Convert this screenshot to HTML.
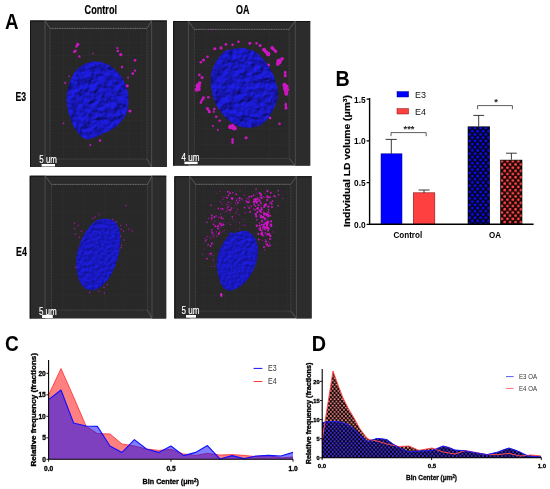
<!DOCTYPE html>
<html><head><meta charset="utf-8"><title>Figure</title>
<style>
html,body{margin:0;padding:0;background:#fff;}
svg{display:block}
text{font-family:"Liberation Sans",sans-serif;}
.b{font-weight:bold}
.s{stroke:#000;stroke-width:0.32px}
.s2{stroke:#000;stroke-width:0.2px}
</style></head><body>
<svg width="550" height="489" viewBox="0 0 550 489">
<defs>
<filter id="tex" x="0" y="0" width="1" height="1" color-interpolation-filters="sRGB">
<feTurbulence type="fractalNoise" baseFrequency="0.16" numOctaves="3" seed="3" result="n"/>
<feDiffuseLighting in="n" surfaceScale="1.8" diffuseConstant="1.12" lighting-color="#1c1cdc" result="l"><feDistantLight azimuth="235" elevation="52"/></feDiffuseLighting>
<feComposite in="l" in2="SourceAlpha" operator="in"/>
</filter>
<filter id="tex2" x="0" y="0" width="1" height="1" color-interpolation-filters="sRGB">
<feTurbulence type="fractalNoise" baseFrequency="0.3" numOctaves="3" seed="5" result="n"/>
<feDiffuseLighting in="n" surfaceScale="0.9" diffuseConstant="1.12" lighting-color="#1c1cdc" result="l"><feDistantLight azimuth="235" elevation="52"/></feDiffuseLighting>
<feComposite in="l" in2="SourceAlpha" operator="in"/>
</filter>
<pattern id="pb" width="5.45" height="6.4" patternUnits="userSpaceOnUse" x="468" y="126.4">
<rect width="5.45" height="6.4" fill="#05051a"/>
<g fill="#0a0aff"><circle cx="1.6" cy="1.6" r="1.45"/><circle cx="4.33" cy="4.8" r="1.45"/></g>
</pattern>
<pattern id="pr" width="5.45" height="6.4" patternUnits="userSpaceOnUse" x="500.4" y="159.6">
<rect width="5.45" height="6.4" fill="#1a0505"/>
<g fill="#ff4545"><circle cx="1.6" cy="1.6" r="1.45"/><circle cx="4.33" cy="4.8" r="1.45"/></g>
</pattern>
<pattern id="dr" width="3.76" height="4.2" patternUnits="userSpaceOnUse" x="329.9" y="394.1">
<rect width="3.76" height="4.2" fill="#000"/>
<g fill="#ff8a8a"><circle cx="0.9" cy="1.0" r="0.98"/><circle cx="2.78" cy="3.1" r="0.98"/></g>
</pattern>
<pattern id="db" width="3.76" height="4.2" patternUnits="userSpaceOnUse" x="329.9" y="394.1">
<rect width="3.76" height="4.2" fill="#1212a4"/>
<g fill="#000"><circle cx="2.78" cy="1.0" r="1.08"/><circle cx="0.9" cy="3.1" r="1.08"/></g>
<g fill="#7044dc"><circle cx="0.9" cy="1.0" r="0.72"/><circle cx="2.78" cy="3.1" r="0.72"/></g>
</pattern>
</defs>
<rect width="550" height="489" fill="#fff"/>

<rect x="30" y="20.6" width="136.8" height="146.4" fill="#2b2b2b"/>
<rect x="30" y="20.6" width="15.0" height="146.4" fill="#2c2c2c"/>
<rect x="151.6" y="20.6" width="15.2" height="146.4" fill="#2c2c2c"/>
<rect x="50" y="28.4" width="97.0" height="130.6" fill="#282828"/>
<path d="M30.5,167V21.1H166.8" stroke="#141414" stroke-width="1" fill="none"/>
<path d="M45,20.6V167M151.6,20.6V167" stroke="#5a5a5a" stroke-width="0.7" fill="none"/>
<path d="M45,20.6L50,28.4M151.6,20.6L147,28.4M45,167L50,159M151.6,167L147,159" stroke="#6a6a6a" stroke-width="0.7" fill="none"/>
<path d="M50,28.4H147" stroke="#909090" stroke-width="0.7" stroke-dasharray="1.2,0.5" fill="none"/>
<path d="M50,28.4V159H147V28.4" stroke="#5c5c5c" stroke-width="0.6" stroke-dasharray="0.9,0.6" fill="none"/>
<path d="M50.5,28.4V159M63.5,28.4V159M76.5,28.4V159M89.5,28.4V159M102.5,28.4V159M115.5,28.4V159M128.5,28.4V159M141.5,28.4V159M50,146.6H147M50,133.6H147M50,120.6H147M50,107.6H147M50,94.6H147M50,81.6H147M50,68.6H147M50,55.6H147M50,42.6H147M50,29.6H147" stroke="#3b3b3b" stroke-width="0.5" stroke-dasharray="0.7,0.9" fill="none"/>
<path d="M92.9,61.6C90.2,62.0 86.7,63.2 84.0,64.5C81.3,65.8 79.2,66.8 77.0,69.4C74.8,72.0 72.2,75.5 70.5,80.0C68.8,84.5 67.2,91.7 66.7,96.4C66.2,101.1 67.0,104.7 67.5,108.0C68.0,111.3 68.6,113.0 69.6,116.0C70.6,119.0 71.9,122.9 73.5,126.0C75.1,129.1 77.7,132.4 79.4,134.4C81.2,136.4 82.6,137.2 84.0,138.0C85.4,138.8 86.0,139.5 88.0,139.3C90.0,139.1 93.3,138.1 96.0,137.0C98.7,135.9 101.0,134.5 104.0,133.0C107.0,131.5 111.0,130.6 114.2,128.2C117.5,125.8 121.3,121.4 123.5,118.4C125.7,115.4 126.7,112.8 127.5,110.0C128.3,107.2 128.3,104.1 128.4,101.3C128.5,98.5 128.4,95.5 128.0,93.0C127.6,90.5 126.9,89.0 126.0,86.6C125.1,84.2 123.9,81.0 122.5,78.5C121.1,76.0 119.2,73.8 117.4,71.9C115.7,70.0 113.8,68.3 112.0,67.0C110.2,65.7 108.4,64.8 106.4,64.0C104.4,63.2 102.2,62.4 100.0,62.0C97.8,61.6 95.6,61.2 92.9,61.6Z" fill="#1818c8" filter="url(#tex)"/>
<g fill="#cc16c4"><circle cx="77.7" cy="44.4" r="1.70"/><circle cx="76.5" cy="46.5" r="1.30"/><circle cx="75.2" cy="51.0" r="1.50"/><circle cx="74.0" cy="52.0" r="1.10"/><circle cx="79.4" cy="56.4" r="1.20"/><circle cx="92.9" cy="53.5" r="0.80"/><circle cx="117.4" cy="48.0" r="1.10"/><circle cx="117.9" cy="51.0" r="1.30"/><circle cx="120.8" cy="54.7" r="1.60"/><circle cx="135.0" cy="60.3" r="1.40"/><circle cx="122.0" cy="67.0" r="1.20"/><circle cx="135.0" cy="70.6" r="1.20"/><circle cx="132.8" cy="73.6" r="1.40"/><circle cx="128.0" cy="77.5" r="0.90"/><circle cx="127.2" cy="85.8" r="1.60"/><circle cx="130.0" cy="111.0" r="1.60"/><circle cx="69.0" cy="76.3" r="0.80"/><circle cx="65.2" cy="82.9" r="1.00"/><circle cx="63.5" cy="123.3" r="0.90"/><circle cx="100.0" cy="140.5" r="1.20"/><circle cx="90.4" cy="145.0" r="0.90"/></g>
<text x="39.3" y="163.4" font-size="10.1" fill="#fff" stroke="#fff" stroke-width="0.15" textLength="17.7" lengthAdjust="spacingAndGlyphs">5 um</text>
<rect x="41.6" y="164" width="13.4" height="2.5" fill="#fff"/>
<rect x="173.2" y="21" width="137.0" height="144.6" fill="#2b2b2b"/>
<rect x="173.2" y="21" width="15.2" height="144.6" fill="#2c2c2c"/>
<rect x="295.3" y="21" width="14.9" height="144.6" fill="#2c2c2c"/>
<rect x="194.3" y="29.4" width="94.9" height="129.0" fill="#282828"/>
<path d="M173.7,165.6V21.5H310.2" stroke="#141414" stroke-width="1" fill="none"/>
<path d="M188.4,21V165.6M295.3,21V165.6" stroke="#5a5a5a" stroke-width="0.7" fill="none"/>
<path d="M188.4,21L194.3,29.4M295.3,21L289.2,29.4M188.4,165.6L194.3,158.4M295.3,165.6L289.2,158.4" stroke="#6a6a6a" stroke-width="0.7" fill="none"/>
<path d="M194.3,29.4H289.2" stroke="#909090" stroke-width="0.7" stroke-dasharray="1.2,0.5" fill="none"/>
<path d="M194.3,29.4V158.4H289.2V29.4" stroke="#5c5c5c" stroke-width="0.6" stroke-dasharray="0.9,0.6" fill="none"/>
<path d="M206.3,29.4V158.4M222.1,29.4V158.4M237.9,29.4V158.4M253.7,29.4V158.4M269.5,29.4V158.4M285.3,29.4V158.4M194.3,144.4H289.2M194.3,128.6H289.2M194.3,112.8H289.2M194.3,97.0H289.2M194.3,81.2H289.2M194.3,65.4H289.2M194.3,49.6H289.2M194.3,33.8H289.2" stroke="#3b3b3b" stroke-width="0.5" stroke-dasharray="0.7,0.9" fill="none"/>
<path d="M234.5,48.7C232.4,49.0 230.0,49.2 228.0,50.0C226.0,50.8 224.2,51.6 222.4,53.3C220.6,55.0 218.6,57.5 217.0,60.0C215.4,62.5 213.9,65.4 212.9,68.1C211.9,70.8 211.3,73.3 211.0,76.0C210.7,78.7 210.8,81.3 211.0,84.3C211.2,87.3 211.7,90.8 212.5,94.0C213.3,97.2 214.2,100.2 215.6,103.2C217.0,106.2 219.0,109.3 221.0,112.0C223.0,114.7 225.4,117.3 227.7,119.4C230.0,121.5 232.3,123.2 235.0,124.5C237.7,125.8 241.1,127.0 243.9,127.5C246.7,128.0 249.3,127.9 252.0,127.5C254.7,127.1 257.8,126.5 260.1,125.3C262.4,124.1 264.2,122.4 266.0,120.5C267.8,118.6 269.4,116.4 270.9,114.0C272.4,111.6 273.9,108.7 275.0,106.0C276.1,103.3 277.2,100.6 277.6,97.8C278.0,95.0 277.8,91.7 277.5,89.0C277.2,86.3 276.5,84.3 275.7,81.6C274.9,78.9 273.8,75.7 272.5,73.0C271.2,70.3 269.8,67.7 268.2,65.4C266.6,63.1 264.8,61.0 263.0,59.0C261.2,57.0 259.2,54.8 257.4,53.3C255.6,51.8 253.8,51.1 252.0,50.3C250.2,49.5 248.5,49.1 246.6,48.7C244.7,48.3 242.5,48.0 240.5,48.0C238.5,48.0 236.6,48.4 234.5,48.7Z" fill="#1818c8" filter="url(#tex)"/>
<g fill="#cc16c4"><circle cx="211.6" cy="29.6" r="0.77"/><circle cx="214.8" cy="48.7" r="1.54"/><circle cx="221.0" cy="47.9" r="1.54"/><circle cx="225.9" cy="44.4" r="1.28"/><circle cx="232.6" cy="44.7" r="1.28"/><circle cx="238.5" cy="41.7" r="1.28"/><circle cx="249.9" cy="43.3" r="1.54"/><circle cx="256.6" cy="43.3" r="1.28"/><circle cx="260.1" cy="45.5" r="1.54"/><circle cx="264.1" cy="49.8" r="2.05"/><circle cx="268.2" cy="54.1" r="2.31"/><circle cx="266.3" cy="52.0" r="1.79"/><circle cx="272.2" cy="47.9" r="1.79"/><circle cx="274.1" cy="49.8" r="1.54"/><circle cx="275.7" cy="51.4" r="1.54"/><circle cx="279.0" cy="61.4" r="2.56"/><circle cx="277.6" cy="64.1" r="1.79"/><circle cx="282.2" cy="58.7" r="1.79"/><circle cx="268.7" cy="64.9" r="1.28"/><circle cx="285.2" cy="72.2" r="1.28"/><circle cx="285.2" cy="75.7" r="1.54"/><circle cx="285.7" cy="87.0" r="2.82"/><circle cx="284.4" cy="84.9" r="2.05"/><circle cx="287.1" cy="89.7" r="2.05"/><circle cx="286.3" cy="93.8" r="2.05"/><circle cx="285.7" cy="104.5" r="1.28"/><circle cx="286.0" cy="108.0" r="1.54"/><circle cx="203.5" cy="60.0" r="1.54"/><circle cx="200.8" cy="62.2" r="1.28"/><circle cx="207.5" cy="56.8" r="1.28"/><circle cx="199.4" cy="74.9" r="1.28"/><circle cx="202.1" cy="77.6" r="1.54"/><circle cx="198.1" cy="85.7" r="2.56"/><circle cx="199.7" cy="83.0" r="1.79"/><circle cx="196.7" cy="89.7" r="2.05"/><circle cx="198.6" cy="89.2" r="2.05"/><circle cx="203.5" cy="97.8" r="1.54"/><circle cx="202.1" cy="100.0" r="1.28"/><circle cx="200.8" cy="102.6" r="1.28"/><circle cx="208.3" cy="97.3" r="1.28"/><circle cx="207.5" cy="108.6" r="1.54"/><circle cx="209.4" cy="111.8" r="1.54"/><circle cx="214.3" cy="109.1" r="1.28"/><circle cx="213.7" cy="111.8" r="1.02"/><circle cx="216.2" cy="116.7" r="1.28"/><circle cx="219.7" cy="120.7" r="1.28"/><circle cx="212.9" cy="126.1" r="1.02"/><circle cx="217.8" cy="130.1" r="1.02"/><circle cx="230.4" cy="126.9" r="2.31"/><circle cx="234.5" cy="128.3" r="2.31"/><circle cx="232.6" cy="126.1" r="2.05"/><circle cx="232.6" cy="139.6" r="1.28"/><circle cx="232.6" cy="142.6" r="1.28"/><circle cx="246.1" cy="137.7" r="1.54"/><circle cx="270.1" cy="118.0" r="1.28"/><circle cx="279.5" cy="123.7" r="1.28"/></g>
<g fill="#cc16c4"><ellipse cx="273.0" cy="48.7" rx="2.70" ry="1.08" transform="rotate(42 273.0 48.7)"/><ellipse cx="285.2" cy="73.8" rx="1.08" ry="2.97" transform="rotate(0 285.2 73.8)"/><ellipse cx="286.0" cy="105.9" rx="1.08" ry="3.50" transform="rotate(-4 286.0 105.9)"/><ellipse cx="232.6" cy="140.9" rx="0.97" ry="2.97" transform="rotate(2 232.6 140.9)"/><ellipse cx="198.1" cy="87.0" rx="2.16" ry="3.77" transform="rotate(12 198.1 87.0)"/><ellipse cx="202.1" cy="100.0" rx="1.08" ry="2.70" transform="rotate(32 202.1 100.0)"/><ellipse cx="279.2" cy="61.9" rx="2.16" ry="3.24" transform="rotate(28 279.2 61.9)"/><ellipse cx="285.7" cy="88.6" rx="2.43" ry="4.58" transform="rotate(-8 285.7 88.6)"/><ellipse cx="266.3" cy="52.2" rx="2.97" ry="1.62" transform="rotate(35 266.3 52.2)"/><ellipse cx="232.3" cy="127.5" rx="3.50" ry="1.89" transform="rotate(15 232.3 127.5)"/><ellipse cx="208.3" cy="109.9" rx="1.08" ry="2.16" transform="rotate(-30 208.3 109.9)"/></g>
<text x="181.6" y="161.2" font-size="10.1" fill="#fff" stroke="#fff" stroke-width="0.15" textLength="18.0" lengthAdjust="spacingAndGlyphs">4 um</text>
<rect x="184.4" y="161.7" width="13.2" height="2.4" fill="#fff"/>
<rect x="29.8" y="175.8" width="136.4" height="142.7" fill="#2b2b2b"/>
<rect x="29.8" y="175.8" width="15.2" height="142.7" fill="#2c2c2c"/>
<rect x="152" y="175.8" width="14.2" height="142.7" fill="#2c2c2c"/>
<rect x="51.4" y="184.4" width="96.1" height="125.6" fill="#282828"/>
<path d="M30.3,318.5V176.3H166.2" stroke="#141414" stroke-width="1" fill="none"/>
<path d="M45,175.8V318.5M152,175.8V318.5" stroke="#5a5a5a" stroke-width="0.7" fill="none"/>
<path d="M45,175.8L51.4,184.4M152,175.8L147.5,184.4M45,318.5L51.4,310M152,318.5L147.5,310" stroke="#6a6a6a" stroke-width="0.7" fill="none"/>
<path d="M51.4,184.4H147.5" stroke="#909090" stroke-width="0.7" stroke-dasharray="1.2,0.5" fill="none"/>
<path d="M51.4,184.4V310H147.5V184.4" stroke="#5c5c5c" stroke-width="0.6" stroke-dasharray="0.9,0.6" fill="none"/>
<path d="M63.0,184.4V310M83.7,184.4V310M104.4,184.4V310M125.1,184.4V310M145.8,184.4V310M51.4,295.3H147.5M51.4,274.6H147.5M51.4,253.9H147.5M51.4,233.2H147.5M51.4,212.5H147.5M51.4,191.8H147.5" stroke="#3b3b3b" stroke-width="0.5" stroke-dasharray="0.7,0.9" fill="none"/>
<path d="M105.1,218.8C103.2,218.8 100.8,219.0 99.0,219.5C97.2,220.0 95.8,220.7 94.1,222.0C92.4,223.3 90.6,225.5 89.0,227.5C87.4,229.5 85.7,231.7 84.3,234.2C82.9,236.7 81.6,239.6 80.5,242.5C79.4,245.4 78.2,248.5 77.5,251.4C76.8,254.3 76.4,257.1 76.2,260.0C76.0,262.9 76.2,265.8 76.5,268.5C76.8,271.2 77.3,274.1 78.0,276.5C78.7,278.9 79.5,281.3 80.6,283.2C81.7,285.1 83.1,286.6 84.5,287.8C85.9,289.0 87.5,289.7 89.2,290.1C90.9,290.5 92.9,290.3 94.5,290.0C96.1,289.7 97.4,289.1 99.0,288.1C100.6,287.1 102.6,285.4 104.2,283.8C105.8,282.2 107.4,280.4 108.8,278.3C110.2,276.2 111.6,273.8 112.8,271.3C114.0,268.9 115.2,266.3 116.2,263.6C117.2,260.9 117.9,257.9 118.5,255.0C119.1,252.2 119.6,249.2 119.9,246.5C120.2,243.8 120.4,241.4 120.4,239.0C120.4,236.6 120.3,234.0 119.9,231.8C119.5,229.6 118.8,227.6 118.0,226.0C117.2,224.4 116.2,223.1 115.0,222.0C113.8,220.9 112.2,220.1 110.5,219.6C108.8,219.1 107.0,218.8 105.1,218.8Z" fill="#1a1ad0" filter="url(#tex2)"/>
<g fill="#b010b0"><circle cx="126.0" cy="205.5" r="0.75"/><circle cx="95.3" cy="217.1" r="0.75"/><circle cx="99.0" cy="214.6" r="0.75"/><circle cx="92.9" cy="218.3" r="0.75"/><circle cx="74.5" cy="223.2" r="0.75"/><circle cx="78.2" cy="225.6" r="0.75"/><circle cx="74.5" cy="228.8" r="0.75"/><circle cx="81.4" cy="231.3" r="0.75"/><circle cx="75.7" cy="234.2" r="0.75"/><circle cx="79.4" cy="237.2" r="0.75"/><circle cx="112.5" cy="219.5" r="0.75"/><circle cx="116.2" cy="222.0" r="0.75"/><circle cx="120.6" cy="225.6" r="0.75"/><circle cx="121.1" cy="229.3" r="0.75"/><circle cx="123.5" cy="231.3" r="0.75"/><circle cx="126.5" cy="224.9" r="0.75"/><circle cx="128.9" cy="229.3" r="0.75"/><circle cx="132.1" cy="231.0" r="0.75"/><circle cx="120.6" cy="236.2" r="0.75"/><circle cx="124.0" cy="239.9" r="0.75"/><circle cx="121.6" cy="245.2" r="0.75"/><circle cx="121.1" cy="247.7" r="0.75"/><circle cx="75.7" cy="267.3" r="0.75"/><circle cx="107.1" cy="284.5" r="0.75"/><circle cx="103.9" cy="287.6" r="0.75"/><circle cx="99.0" cy="291.3" r="0.75"/><circle cx="104.4" cy="293.0" r="0.75"/><circle cx="89.7" cy="292.5" r="0.75"/></g>
<text x="38.9" y="314.5" font-size="10.1" fill="#fff" stroke="#fff" stroke-width="0.15" textLength="17.9" lengthAdjust="spacingAndGlyphs">5 um</text>
<rect x="42.1" y="314.9" width="10.7" height="3.1" fill="#fff"/>
<rect x="174.4" y="176.3" width="137.2" height="142.1" fill="#2b2b2b"/>
<rect x="174.4" y="176.3" width="15.2" height="142.1" fill="#2c2c2c"/>
<rect x="296.4" y="176.3" width="15.2" height="142.1" fill="#2c2c2c"/>
<rect x="195.6" y="184.3" width="95.2" height="126.7" fill="#282828"/>
<path d="M174.9,318.4V176.8H311.6" stroke="#141414" stroke-width="1" fill="none"/>
<path d="M189.6,176.3V318.4M296.4,176.3V318.4" stroke="#5a5a5a" stroke-width="0.7" fill="none"/>
<path d="M189.6,176.3L195.6,184.3M296.4,176.3L290.8,184.3M189.6,318.4L195.6,311M296.4,318.4L290.8,311" stroke="#6a6a6a" stroke-width="0.7" fill="none"/>
<path d="M195.6,184.3H290.8" stroke="#909090" stroke-width="0.7" stroke-dasharray="1.2,0.5" fill="none"/>
<path d="M195.6,184.3V311H290.8V184.3" stroke="#5c5c5c" stroke-width="0.6" stroke-dasharray="0.9,0.6" fill="none"/>
<path d="M204.2,184.3V311M214.6,184.3V311M225.0,184.3V311M235.4,184.3V311M245.8,184.3V311M256.2,184.3V311M266.6,184.3V311M277.0,184.3V311M287.4,184.3V311M195.6,305.8H290.8M195.6,295.4H290.8M195.6,285.0H290.8M195.6,274.6H290.8M195.6,264.2H290.8M195.6,253.8H290.8M195.6,243.4H290.8M195.6,233.0H290.8M195.6,222.6H290.8M195.6,212.2H290.8M195.6,201.8H290.8M195.6,191.4H290.8" stroke="#3b3b3b" stroke-width="0.5" stroke-dasharray="0.7,0.9" fill="none"/>
<path d="M230.5,231.3C231.0,231.4 231.6,232.9 232.5,233.2C233.4,233.4 234.8,233.1 236.2,232.8C237.6,232.5 239.3,231.5 241.0,231.2C242.7,230.9 244.8,230.6 246.5,231.0C248.2,231.4 249.6,232.3 251.0,233.5C252.4,234.7 253.7,236.2 254.7,237.9C255.7,239.6 256.4,241.6 257.0,243.5C257.6,245.4 257.9,247.2 258.0,249.5C258.1,251.8 257.9,254.4 257.5,257.0C257.1,259.6 256.4,262.3 255.5,264.9C254.6,267.5 253.3,270.1 252.0,272.5C250.7,274.9 249.3,277.2 247.8,279.1C246.3,281.1 244.7,282.7 243.0,284.2C241.3,285.7 239.3,287.1 237.5,288.1C235.7,289.1 233.7,289.9 232.0,290.2C230.3,290.5 228.6,290.6 227.2,290.1C225.8,289.7 224.4,288.7 223.3,287.5C222.2,286.3 221.5,285.0 220.7,282.9C219.8,280.8 218.8,277.6 218.2,275.0C217.6,272.4 217.1,269.8 216.9,267.5C216.7,265.2 216.8,263.1 217.0,261.0C217.2,258.9 217.6,256.7 218.2,254.6C218.8,252.5 219.5,250.4 220.3,248.5C221.2,246.6 222.4,244.6 223.3,243.0C224.2,241.4 225.1,240.1 226.0,238.8C226.9,237.6 228.2,236.6 228.8,235.5C229.4,234.4 229.2,233.2 229.5,232.5C229.8,231.8 230.0,231.2 230.5,231.3Z" fill="#1a1ad0" filter="url(#tex2)"/>
<g fill="#a80ea2"><circle cx="258.0" cy="208.3" r="0.60"/><circle cx="265.5" cy="205.7" r="0.60"/><circle cx="260.0" cy="210.1" r="0.70"/><circle cx="257.3" cy="208.0" r="0.60"/><circle cx="267.9" cy="227.0" r="0.70"/><circle cx="266.5" cy="234.8" r="0.60"/><circle cx="266.6" cy="234.7" r="0.60"/><circle cx="262.8" cy="222.1" r="0.60"/><circle cx="266.4" cy="213.6" r="0.60"/><circle cx="265.0" cy="223.9" r="0.70"/><circle cx="269.2" cy="222.2" r="0.60"/><circle cx="269.6" cy="225.0" r="0.60"/><circle cx="271.1" cy="238.8" r="0.60"/><circle cx="273.1" cy="231.9" r="0.70"/><circle cx="269.6" cy="243.3" r="0.70"/><circle cx="264.6" cy="249.7" r="0.70"/><circle cx="259.4" cy="214.7" r="0.60"/><circle cx="265.0" cy="229.1" r="0.60"/><circle cx="268.4" cy="241.7" r="0.60"/><circle cx="256.0" cy="213.5" r="0.70"/><circle cx="261.5" cy="216.6" r="0.70"/><circle cx="265.4" cy="215.3" r="0.70"/><circle cx="268.1" cy="228.0" r="0.70"/><circle cx="263.7" cy="225.9" r="0.70"/><circle cx="265.5" cy="239.8" r="0.70"/><circle cx="269.6" cy="213.0" r="0.60"/><circle cx="268.9" cy="228.4" r="0.70"/><circle cx="262.7" cy="240.3" r="0.60"/><circle cx="270.3" cy="226.6" r="0.60"/><circle cx="266.7" cy="224.5" r="0.60"/><circle cx="258.2" cy="234.0" r="0.60"/><circle cx="260.1" cy="216.0" r="0.70"/><circle cx="267.5" cy="216.5" r="0.70"/><circle cx="262.9" cy="216.6" r="0.70"/><circle cx="265.3" cy="203.8" r="0.70"/><circle cx="267.2" cy="219.8" r="0.70"/><circle cx="263.5" cy="225.9" r="0.60"/><circle cx="269.3" cy="234.6" r="0.60"/><circle cx="258.5" cy="205.5" r="0.60"/><circle cx="258.6" cy="228.5" r="0.70"/><circle cx="264.6" cy="197.1" r="0.60"/><circle cx="266.6" cy="244.6" r="0.60"/><circle cx="267.0" cy="213.9" r="0.60"/><circle cx="227.1" cy="198.4" r="0.60"/><circle cx="242.8" cy="201.0" r="0.50"/><circle cx="247.0" cy="198.7" r="0.50"/><circle cx="256.1" cy="201.3" r="0.60"/><circle cx="247.9" cy="205.9" r="0.60"/><circle cx="220.0" cy="190.9" r="0.60"/><circle cx="260.5" cy="200.3" r="0.50"/><circle cx="244.2" cy="195.0" r="0.70"/><circle cx="238.0" cy="198.7" r="0.60"/><circle cx="265.0" cy="193.3" r="0.60"/><circle cx="253.5" cy="208.8" r="0.70"/><circle cx="263.2" cy="196.7" r="0.70"/><circle cx="259.5" cy="197.2" r="0.60"/><circle cx="257.7" cy="197.6" r="0.60"/><circle cx="223.2" cy="197.2" r="0.60"/><circle cx="227.9" cy="204.5" r="0.50"/><circle cx="269.6" cy="203.7" r="0.70"/><circle cx="266.3" cy="204.0" r="0.70"/><circle cx="222.9" cy="199.4" r="0.60"/><circle cx="257.1" cy="193.4" r="0.50"/><circle cx="267.4" cy="195.9" r="0.60"/><circle cx="255.2" cy="203.1" r="0.60"/><circle cx="220.5" cy="201.8" r="0.70"/><circle cx="235.6" cy="203.3" r="0.70"/><circle cx="228.2" cy="202.8" r="0.50"/><circle cx="246.9" cy="198.3" r="0.60"/><circle cx="261.3" cy="205.4" r="0.50"/><circle cx="282.7" cy="198.4" r="0.70"/><circle cx="239.9" cy="190.5" r="0.60"/><circle cx="226.4" cy="204.6" r="0.50"/><circle cx="254.8" cy="195.0" r="0.50"/><circle cx="255.0" cy="198.5" r="0.70"/><circle cx="275.4" cy="196.7" r="0.70"/><circle cx="254.2" cy="205.2" r="0.60"/><circle cx="245.6" cy="200.6" r="0.60"/><circle cx="248.7" cy="198.9" r="0.70"/><circle cx="229.1" cy="191.7" r="0.50"/><circle cx="224.8" cy="197.0" r="0.50"/><circle cx="249.5" cy="200.5" r="0.60"/><circle cx="219.5" cy="217.1" r="0.60"/><circle cx="219.4" cy="229.5" r="0.50"/><circle cx="209.4" cy="236.7" r="0.50"/><circle cx="220.5" cy="227.3" r="0.50"/><circle cx="213.6" cy="234.0" r="0.40"/><circle cx="213.6" cy="236.9" r="0.60"/><circle cx="207.1" cy="236.7" r="0.70"/><circle cx="219.4" cy="224.2" r="0.60"/><circle cx="218.2" cy="220.6" r="0.40"/><circle cx="214.5" cy="220.9" r="0.60"/><circle cx="211.5" cy="218.9" r="0.50"/><circle cx="218.6" cy="228.4" r="0.40"/><circle cx="221.5" cy="232.4" r="0.40"/><circle cx="224.2" cy="230.3" r="0.60"/><circle cx="221.2" cy="204.3" r="0.40"/><circle cx="225.9" cy="211.6" r="0.70"/><circle cx="211.8" cy="235.1" r="0.50"/><circle cx="214.2" cy="235.2" r="0.60"/><circle cx="208.6" cy="218.5" r="0.70"/><circle cx="209.6" cy="253.4" r="0.40"/><circle cx="219.1" cy="209.5" r="0.60"/><circle cx="218.3" cy="217.6" r="0.40"/><circle cx="232.3" cy="217.0" r="0.60"/><circle cx="205.0" cy="238.7" r="0.60"/><circle cx="221.6" cy="225.1" r="0.60"/><circle cx="210.6" cy="238.5" r="0.50"/><circle cx="218.8" cy="217.6" r="0.70"/><circle cx="217.1" cy="236.6" r="0.70"/><circle cx="221.9" cy="223.9" r="0.40"/><circle cx="216.4" cy="235.7" r="0.50"/><circle cx="214.1" cy="209.3" r="0.40"/><circle cx="206.6" cy="239.8" r="0.70"/><circle cx="220.6" cy="214.2" r="0.70"/><circle cx="211.1" cy="238.0" r="0.60"/><circle cx="216.4" cy="231.9" r="0.70"/><circle cx="219.7" cy="231.9" r="0.70"/><circle cx="221.7" cy="226.4" r="0.50"/><circle cx="222.9" cy="231.2" r="0.50"/><circle cx="219.0" cy="222.4" r="0.40"/><circle cx="217.4" cy="228.4" r="0.70"/><circle cx="218.6" cy="229.2" r="0.40"/><circle cx="211.6" cy="219.8" r="0.70"/><circle cx="214.3" cy="224.8" r="0.50"/><circle cx="223.3" cy="223.1" r="0.60"/><circle cx="211.9" cy="231.5" r="0.70"/><circle cx="218.3" cy="224.9" r="0.50"/><circle cx="212.4" cy="236.1" r="0.50"/><circle cx="223.9" cy="208.4" r="0.40"/><circle cx="215.9" cy="221.9" r="0.40"/><circle cx="207.7" cy="259.0" r="0.50"/><circle cx="208.7" cy="254.4" r="0.40"/><circle cx="210.7" cy="252.9" r="0.60"/><circle cx="214.8" cy="266.5" r="0.60"/><circle cx="209.9" cy="266.7" r="0.40"/><circle cx="208.3" cy="255.1" r="0.40"/><circle cx="213.7" cy="243.7" r="0.40"/><circle cx="213.1" cy="260.2" r="0.60"/><circle cx="202.5" cy="254.4" r="0.60"/><circle cx="203.9" cy="249.3" r="0.50"/><circle cx="212.9" cy="257.8" r="0.40"/><circle cx="211.9" cy="255.5" r="0.50"/><circle cx="211.7" cy="266.5" r="0.60"/><circle cx="213.7" cy="255.7" r="0.50"/><circle cx="213.4" cy="260.2" r="0.50"/><circle cx="209.7" cy="254.7" r="0.40"/><circle cx="209.7" cy="253.8" r="0.50"/><circle cx="207.6" cy="245.8" r="0.40"/><circle cx="239.0" cy="214.7" r="0.70"/><circle cx="236.9" cy="204.7" r="0.60"/><circle cx="228.2" cy="211.6" r="0.40"/><circle cx="253.8" cy="200.4" r="0.50"/><circle cx="245.5" cy="212.6" r="0.70"/><circle cx="257.8" cy="209.5" r="0.60"/><circle cx="240.5" cy="202.9" r="0.40"/><circle cx="239.7" cy="222.9" r="0.40"/><circle cx="222.9" cy="209.7" r="0.60"/><circle cx="229.3" cy="219.3" r="0.40"/><circle cx="243.3" cy="219.6" r="0.50"/><circle cx="245.0" cy="225.5" r="0.70"/><circle cx="235.8" cy="213.6" r="0.50"/><circle cx="221.8" cy="223.2" r="0.60"/><circle cx="250.8" cy="210.8" r="0.50"/><circle cx="228.1" cy="202.0" r="0.70"/><circle cx="226.7" cy="204.4" r="0.60"/><circle cx="260.4" cy="214.0" r="0.40"/><circle cx="239.5" cy="222.7" r="0.60"/><circle cx="236.8" cy="212.1" r="0.70"/><circle cx="242.9" cy="224.9" r="0.60"/><circle cx="247.3" cy="203.4" r="0.50"/><circle cx="239.7" cy="228.8" r="0.60"/><circle cx="229.7" cy="213.2" r="0.50"/><circle cx="233.9" cy="208.0" r="0.50"/><circle cx="220.6" cy="208.6" r="0.70"/><circle cx="216.4" cy="193.3" r="0.50"/><circle cx="237.6" cy="209.5" r="0.70"/><circle cx="230.9" cy="203.2" r="0.60"/><circle cx="228.0" cy="223.0" r="0.50"/><circle cx="228.6" cy="207.5" r="0.60"/><circle cx="231.3" cy="209.6" r="0.70"/><circle cx="232.9" cy="219.4" r="0.60"/><circle cx="227.6" cy="210.2" r="0.70"/><circle cx="229.4" cy="205.8" r="0.50"/><circle cx="230.5" cy="224.4" r="0.70"/><circle cx="226.9" cy="208.7" r="0.60"/><circle cx="220.7" cy="208.3" r="0.50"/><circle cx="222.3" cy="203.9" r="0.70"/></g>
<g fill="#cc16c4"><circle cx="260.2" cy="229.7" r="1.20"/><circle cx="260.3" cy="228.1" r="1.00"/><circle cx="270.1" cy="245.4" r="0.90"/><circle cx="263.0" cy="226.8" r="1.00"/><circle cx="260.6" cy="217.4" r="0.90"/><circle cx="257.5" cy="211.9" r="0.80"/><circle cx="258.2" cy="234.1" r="1.00"/><circle cx="261.2" cy="212.5" r="0.80"/><circle cx="261.3" cy="233.7" r="1.20"/><circle cx="268.4" cy="228.8" r="1.20"/><circle cx="266.1" cy="222.3" r="0.90"/><circle cx="262.0" cy="221.1" r="1.10"/><circle cx="265.3" cy="229.7" r="0.80"/><circle cx="263.0" cy="216.9" r="1.00"/><circle cx="261.9" cy="230.8" r="0.90"/><circle cx="262.8" cy="228.8" r="0.80"/><circle cx="270.0" cy="197.3" r="1.00"/><circle cx="267.9" cy="223.4" r="0.80"/><circle cx="271.1" cy="224.7" r="1.20"/><circle cx="260.9" cy="217.3" r="0.90"/><circle cx="270.3" cy="236.0" r="1.20"/><circle cx="269.9" cy="239.0" r="1.00"/><circle cx="268.1" cy="212.1" r="0.90"/><circle cx="267.2" cy="225.9" r="1.00"/><circle cx="267.9" cy="221.7" r="1.10"/><circle cx="262.3" cy="233.1" r="1.00"/><circle cx="259.8" cy="225.7" r="1.10"/><circle cx="267.1" cy="223.1" r="0.90"/><circle cx="256.1" cy="216.0" r="1.00"/><circle cx="264.5" cy="219.4" r="0.90"/><circle cx="267.4" cy="227.9" r="0.90"/><circle cx="271.1" cy="221.3" r="1.10"/><circle cx="255.0" cy="209.6" r="0.90"/><circle cx="271.4" cy="226.0" r="0.90"/><circle cx="266.7" cy="224.1" r="1.00"/><circle cx="264.4" cy="227.2" r="1.10"/><circle cx="264.1" cy="217.6" r="0.80"/><circle cx="267.1" cy="214.3" r="1.20"/><circle cx="261.0" cy="215.7" r="1.00"/><circle cx="268.6" cy="209.6" r="0.90"/><circle cx="270.3" cy="215.7" r="0.90"/><circle cx="259.6" cy="223.0" r="0.80"/><circle cx="266.9" cy="222.4" r="1.20"/><circle cx="255.6" cy="206.1" r="0.80"/><circle cx="263.9" cy="212.5" r="0.90"/><circle cx="261.8" cy="224.7" r="0.90"/><circle cx="262.8" cy="217.1" r="0.90"/><circle cx="267.2" cy="215.3" r="1.00"/><circle cx="256.8" cy="225.7" r="1.20"/><circle cx="266.7" cy="225.3" r="0.80"/><circle cx="265.3" cy="218.5" r="0.90"/><circle cx="265.4" cy="233.1" r="0.90"/><circle cx="262.2" cy="235.1" r="1.10"/><circle cx="264.0" cy="247.0" r="1.00"/><circle cx="265.8" cy="241.6" r="1.10"/><circle cx="261.9" cy="208.3" r="0.80"/><circle cx="260.3" cy="211.3" r="1.10"/><circle cx="264.4" cy="214.2" r="1.20"/><circle cx="266.2" cy="227.2" r="1.10"/><circle cx="267.0" cy="228.2" r="1.00"/><circle cx="263.0" cy="216.6" r="0.90"/><circle cx="266.9" cy="244.5" r="1.20"/><circle cx="268.4" cy="246.1" r="1.00"/><circle cx="261.7" cy="209.8" r="1.00"/><circle cx="267.5" cy="223.8" r="1.20"/><circle cx="258.7" cy="239.5" r="0.90"/><circle cx="269.3" cy="234.2" r="1.10"/><circle cx="265.3" cy="223.3" r="1.00"/><circle cx="255.7" cy="214.1" r="1.20"/><circle cx="265.6" cy="213.5" r="0.80"/><circle cx="262.5" cy="217.4" r="1.10"/><circle cx="268.4" cy="206.7" r="1.10"/><circle cx="268.0" cy="230.7" r="0.90"/><circle cx="257.0" cy="219.8" r="0.80"/><circle cx="264.4" cy="228.7" r="0.90"/><circle cx="263.7" cy="235.7" r="0.80"/><circle cx="264.0" cy="224.6" r="1.20"/><circle cx="267.9" cy="234.3" r="1.20"/><circle cx="268.5" cy="216.5" r="1.00"/><circle cx="268.3" cy="214.8" r="1.10"/><circle cx="268.1" cy="228.6" r="1.00"/><circle cx="256.4" cy="216.4" r="1.00"/><circle cx="236.2" cy="194.3" r="0.90"/><circle cx="249.2" cy="208.0" r="0.90"/><circle cx="259.4" cy="210.2" r="0.90"/><circle cx="232.2" cy="199.0" r="0.90"/><circle cx="270.8" cy="202.4" r="0.80"/><circle cx="278.7" cy="194.7" r="0.80"/><circle cx="229.6" cy="209.8" r="0.80"/><circle cx="241.8" cy="199.1" r="0.80"/><circle cx="251.1" cy="206.2" r="0.80"/><circle cx="249.2" cy="196.7" r="0.90"/><circle cx="229.9" cy="193.2" r="1.00"/><circle cx="231.4" cy="198.4" r="0.80"/><circle cx="227.8" cy="191.7" r="0.90"/><circle cx="256.9" cy="202.8" r="1.00"/><circle cx="255.5" cy="201.4" r="0.80"/><circle cx="278.2" cy="205.7" r="0.80"/><circle cx="272.5" cy="201.2" r="0.90"/><circle cx="255.6" cy="200.7" r="1.00"/><circle cx="258.6" cy="205.2" r="1.00"/><circle cx="222.4" cy="208.9" r="0.90"/><circle cx="246.9" cy="201.7" r="1.00"/><circle cx="278.3" cy="190.8" r="0.80"/><circle cx="239.7" cy="198.0" r="0.90"/><circle cx="248.7" cy="202.3" r="1.00"/><circle cx="256.1" cy="189.3" r="0.80"/><circle cx="261.1" cy="203.3" r="0.90"/><circle cx="267.2" cy="199.9" r="1.00"/><circle cx="232.8" cy="198.4" r="0.80"/><circle cx="232.8" cy="192.7" r="0.80"/><circle cx="254.2" cy="199.4" r="0.90"/><circle cx="260.6" cy="202.2" r="0.80"/><circle cx="250.1" cy="211.9" r="0.90"/><circle cx="232.3" cy="198.1" r="0.90"/><circle cx="218.2" cy="208.3" r="0.80"/><circle cx="239.5" cy="200.2" r="0.80"/><circle cx="226.9" cy="197.6" r="0.80"/><circle cx="268.0" cy="197.6" r="0.90"/><circle cx="237.8" cy="202.5" r="0.90"/><circle cx="244.5" cy="207.6" r="0.90"/><circle cx="274.3" cy="196.0" r="1.00"/><circle cx="228.4" cy="195.4" r="0.80"/><circle cx="217.6" cy="226.5" r="0.90"/><circle cx="219.2" cy="233.2" r="0.90"/><circle cx="215.2" cy="226.4" r="0.80"/><circle cx="212.0" cy="217.9" r="0.90"/><circle cx="205.6" cy="241.0" r="0.80"/><circle cx="211.7" cy="229.8" r="0.80"/><circle cx="211.8" cy="215.4" r="0.90"/><circle cx="215.7" cy="226.1" r="0.80"/><circle cx="211.0" cy="253.7" r="0.90"/><circle cx="221.5" cy="217.0" r="0.80"/><circle cx="208.2" cy="244.8" r="0.80"/><circle cx="210.6" cy="246.0" r="0.90"/><circle cx="220.0" cy="223.4" r="0.90"/><circle cx="218.6" cy="234.1" r="0.80"/><circle cx="206.9" cy="258.6" r="0.80"/><circle cx="221.2" cy="224.9" r="0.90"/><circle cx="211.6" cy="243.9" r="0.80"/><circle cx="212.3" cy="232.8" r="0.90"/><circle cx="218.0" cy="228.4" r="0.90"/><circle cx="206.9" cy="222.3" r="0.80"/><circle cx="213.4" cy="224.3" r="0.80"/><circle cx="218.5" cy="234.2" r="0.90"/><circle cx="216.1" cy="216.0" r="0.80"/><circle cx="218.6" cy="226.0" r="0.80"/><circle cx="223.5" cy="224.6" r="0.90"/><circle cx="227.7" cy="206.8" r="0.80"/><circle cx="214.5" cy="217.0" r="0.90"/><circle cx="212.1" cy="243.0" r="0.80"/><circle cx="210.9" cy="205.4" r="0.80"/><circle cx="222.8" cy="225.3" r="0.80"/><circle cx="221.1" cy="218.3" r="0.80"/><circle cx="256.6" cy="198.9" r="0.90"/><circle cx="259.2" cy="200.0" r="0.90"/><circle cx="261.2" cy="197.6" r="1.10"/><circle cx="251.5" cy="196.5" r="1.00"/><circle cx="272.0" cy="206.9" r="1.00"/><circle cx="257.3" cy="201.3" r="0.90"/><circle cx="261.2" cy="207.9" r="0.80"/><circle cx="255.7" cy="198.9" r="1.00"/><circle cx="257.9" cy="198.9" r="0.80"/><circle cx="257.2" cy="212.3" r="0.90"/><circle cx="261.0" cy="195.2" r="0.90"/><circle cx="263.9" cy="207.1" r="0.80"/><circle cx="254.1" cy="202.2" r="0.90"/><circle cx="257.1" cy="208.5" r="1.10"/><circle cx="253.5" cy="195.2" r="0.80"/><circle cx="264.4" cy="205.5" r="0.80"/><circle cx="264.7" cy="205.0" r="1.10"/><circle cx="264.4" cy="206.7" r="1.00"/><circle cx="271.7" cy="203.9" r="0.90"/><circle cx="254.2" cy="204.4" r="0.80"/><circle cx="253.9" cy="201.7" r="1.10"/><circle cx="260.7" cy="194.1" r="1.10"/><circle cx="267.5" cy="191.1" r="1.10"/><circle cx="262.1" cy="198.1" r="0.80"/><circle cx="267.4" cy="196.7" r="1.10"/><circle cx="259.3" cy="201.2" r="0.80"/><circle cx="258.0" cy="208.1" r="1.10"/><circle cx="259.6" cy="193.0" r="1.00"/><circle cx="270.8" cy="192.8" r="0.90"/><circle cx="265.8" cy="204.9" r="1.10"/><circle cx="232.3" cy="216.8" r="0.80"/><circle cx="230.3" cy="210.4" r="0.80"/><circle cx="236.4" cy="200.3" r="0.80"/><circle cx="222.9" cy="218.6" r="0.80"/><circle cx="231.5" cy="208.0" r="0.80"/></g>
<g fill="#e020d8"><circle cx="221.2" cy="294.5" r="1.30"/><circle cx="221.4" cy="296.0" r="0.90"/></g>
<text x="181.6" y="314.4" font-size="10.1" fill="#fff" stroke="#fff" stroke-width="0.15" textLength="18.0" lengthAdjust="spacingAndGlyphs">5 um</text>
<rect x="186" y="315" width="10.0" height="2.7" fill="#fff"/>
<text class="b" x="5" y="28.9" font-size="22" textLength="13.5" lengthAdjust="spacingAndGlyphs">A</text>
<text class="b s2" x="84.6" y="14.4" font-size="13.7" textLength="32.4" lengthAdjust="spacingAndGlyphs">Control</text>
<text class="b s2" x="236" y="14.4" font-size="13.7" textLength="13.4" lengthAdjust="spacingAndGlyphs">OA</text>
<text class="b s2" x="15.4" y="100.8" font-size="13.1" textLength="10.6" lengthAdjust="spacingAndGlyphs">E3</text>
<text class="b s2" x="16" y="255.8" font-size="13.1" textLength="10.8" lengthAdjust="spacingAndGlyphs">E4</text>
<text class="b" x="335.4" y="86.4" font-size="22" textLength="14.2" lengthAdjust="spacingAndGlyphs">B</text>
<rect x="381" y="153.8" width="21" height="70.5" fill="#0000ff" stroke="#00008a" stroke-width="0.5"/>
<rect x="413.3" y="192.8" width="21.5" height="31.5" fill="#ff4040" stroke="#8a1010" stroke-width="0.6"/>
<rect x="468" y="126.8" width="21.7" height="97.5" fill="url(#pb)" stroke="#000" stroke-width="0.6"/>
<rect x="500.5" y="160.1" width="21.5" height="64.2" fill="url(#pr)" stroke="#000" stroke-width="0.6"/>
<path d="M391.3,153.8V139.4M385.6,139.4H396.8 M424,193V190M418.6,190H429.6 M478.7,126.5V115.4M473.3,115.4H484.1 M511.4,159.7V153.2M506,153.2H516.8" stroke="#222" stroke-width="0.9" fill="none"/>
<path d="M369.6,98V224.3H533.6" stroke="#000" stroke-width="1.4" fill="none"/>
<path d="M366.6,224.3H369.6M366.6,182.6H369.6M366.6,140.9H369.6M366.6,99.2H369.6" stroke="#000" stroke-width="1.2"/>
<text class="b" x="365.6" y="227.6" font-size="9.2" text-anchor="end" textLength="11.6" lengthAdjust="spacingAndGlyphs">0.0</text>
<text class="b" x="365.6" y="185.9" font-size="9.2" text-anchor="end" textLength="11.6" lengthAdjust="spacingAndGlyphs">0.5</text>
<text class="b" x="365.6" y="144.2" font-size="9.2" text-anchor="end" textLength="11.6" lengthAdjust="spacingAndGlyphs">1.0</text>
<text class="b" x="365.6" y="102.5" font-size="9.2" text-anchor="end" textLength="11.6" lengthAdjust="spacingAndGlyphs">1.5</text>
<text class="b" x="393.4" y="238.4" font-size="9.6" textLength="28.8" lengthAdjust="spacingAndGlyphs">Control</text>
<text class="b" x="489" y="238.4" font-size="9.6" textLength="12" lengthAdjust="spacingAndGlyphs">OA</text>
<text class="b s2" transform="translate(349.9,227) rotate(-90)" font-size="9.2" textLength="132" lengthAdjust="spacingAndGlyphs">Individual LD volume (μm<tspan dy="-3" font-size="6">3</tspan><tspan dy="3">)</tspan></text>
<rect x="397" y="91.6" width="11.6" height="5.4" fill="#0000ff" stroke="#00008a" stroke-width="0.5"/>
<rect x="397" y="108.6" width="11.6" height="5.4" fill="#ff4040" stroke="#8a1010" stroke-width="0.5"/>
<text x="415" y="98" font-size="9.8" fill="#111" textLength="11" lengthAdjust="spacingAndGlyphs">E3</text>
<text x="415" y="115" font-size="9.8" fill="#111" textLength="11" lengthAdjust="spacingAndGlyphs">E4</text>
<path d="M391,136.2V132.6H426.2V136.2 M477.6,109.2V105.6H512.4V109.2" stroke="#333" stroke-width="0.8" fill="none"/>
<text class="b" x="409" y="131.9" font-size="9.4" text-anchor="middle" fill="#222">***</text>
<text class="b" x="496" y="105.2" font-size="9.4" text-anchor="middle" fill="#222">*</text>
<text class="b" x="5" y="351.4" font-size="22" textLength="13.8" lengthAdjust="spacingAndGlyphs">C</text>
<polygon points="48.6,395.0 61.0,368.6 73.6,397.0 86.0,426.0 97.4,433.6 110.0,434.0 122.0,444.0 134.4,446.0 146.4,449.0 158.6,450.4 171.0,449.4 183.6,454.0 195.6,455.4 207.4,453.4 220.0,455.0 232.0,454.6 244.0,455.4 256.0,456.6 268.6,455.4 281.0,458.0 293.0,457.0 293,459.3 48.6,459.3" fill="#ff8080"/>
<polyline points="48.6,395.0 61.0,368.6 73.6,397.0 86.0,426.0 97.4,433.6 110.0,434.0 122.0,444.0 134.4,446.0 146.4,449.0 158.6,450.4 171.0,449.4 183.6,454.0 195.6,455.4 207.4,453.4 220.0,455.0 232.0,454.6 244.0,455.4 256.0,456.6 268.6,455.4 281.0,458.0 293.0,457.0" fill="none" stroke="#ff3a3a" stroke-width="0.9"/>
<polygon points="48.6,399.6 61.0,390.0 73.6,423.0 86.0,426.0 97.4,426.4 110.0,446.0 122.0,452.4 134.4,439.6 146.4,449.0 158.6,452.4 171.0,446.0 183.6,455.6 195.6,452.4 207.4,445.6 220.0,459.0 232.0,455.6 244.0,458.6 256.0,456.0 268.6,455.4 281.0,456.0 293.0,452.4 293,459.3 48.6,459.3" fill="#0000ff" fill-opacity="0.5"/>
<polyline points="48.6,399.6 61.0,390.0 73.6,423.0 86.0,426.0 97.4,426.4 110.0,446.0 122.0,452.4 134.4,439.6 146.4,449.0 158.6,452.4 171.0,446.0 183.6,455.6 195.6,452.4 207.4,445.6 220.0,459.0 232.0,455.6 244.0,458.6 256.0,456.0 268.6,455.4 281.0,456.0 293.0,452.4" fill="none" stroke="#1010ff" stroke-width="1.1" stroke-linejoin="round"/>
<path d="M48.6,360V459.3H293.3" stroke="#000" stroke-width="1.1" fill="none"/>
<path d="M46.4,459.3H48.6M46.4,437.8H48.6M46.4,416.3H48.6M46.4,394.8H48.6M46.4,373.3H48.6M48.6,459.3V461.7M171,459.3V461.7M293,459.3V461.7" stroke="#000" stroke-width="0.9"/>
<text class="b s" x="45.8" y="461.7" font-size="6.6" text-anchor="end">0</text>
<text class="b s" x="45.8" y="440.2" font-size="6.6" text-anchor="end">5</text>
<text class="b s" x="45.8" y="418.7" font-size="6.6" text-anchor="end">10</text>
<text class="b s" x="45.8" y="397.2" font-size="6.6" text-anchor="end">15</text>
<text class="b s" x="45.8" y="375.7" font-size="6.6" text-anchor="end">20</text>
<text class="b s" x="48.6" y="470.6" font-size="6.6" text-anchor="middle">0.0</text>
<text class="b s" x="171" y="470.6" font-size="6.6" text-anchor="middle">0.5</text>
<text class="b s" x="293.2" y="470.6" font-size="6.6" text-anchor="middle">1.0</text>
<text class="b s" x="142.6" y="484.2" font-size="7.6" textLength="56.4" lengthAdjust="spacingAndGlyphs">Bin Center (μm<tspan dy="-2.6" font-size="5">2</tspan><tspan dy="2.6">)</tspan></text>
<text class="b s" transform="translate(36,466.6) rotate(-90)" font-size="7" textLength="113.6" lengthAdjust="spacingAndGlyphs">Relative frequency (fractions)</text>
<path d="M253.6,368.4H262.4" stroke="#1010ff" stroke-width="1"/><path d="M253.6,381.5H262.4" stroke="#ff3a3a" stroke-width="1"/>
<text x="268" y="371" font-size="8.2" fill="#333" textLength="8.6" lengthAdjust="spacingAndGlyphs">E3</text>
<text x="268" y="384.4" font-size="8.2" fill="#333" textLength="8.6" lengthAdjust="spacingAndGlyphs">E4</text>
<text class="b" x="311.7" y="351.2" font-size="22" textLength="14.3" lengthAdjust="spacingAndGlyphs">D</text>
<polygon points="322.0,441.0 333.0,371.0 338.0,385.0 343.0,398.0 348.0,408.0 354.0,418.0 360.0,429.0 366.0,437.0 369.0,439.5 377.0,441.0 387.0,444.0 399.0,446.6 409.0,446.0 419.0,450.4 432.0,448.0 443.0,452.0 455.0,454.0 465.0,450.6 476.0,452.5 487.0,454.6 498.0,454.6 509.0,453.4 520.0,456.0 531.0,455.0 541.0,456.0 541.3,457.8 322,457.8" fill="url(#dr)"/>
<polygon points="322.0,422.6 328.0,421.8 334.0,421.4 340.0,422.0 345.0,423.4 350.0,426.0 355.0,430.0 361.0,436.5 368.0,442.0 372.0,440.0 377.0,438.4 382.0,438.8 387.0,439.6 393.0,444.0 400.0,448.0 409.0,452.0 419.0,451.0 432.0,450.6 443.0,446.0 449.0,447.5 455.0,450.0 465.0,450.8 476.0,452.8 487.0,454.6 498.0,452.0 504.0,449.6 509.0,448.0 515.0,450.0 520.0,452.0 528.0,456.0 541.0,457.0 541.3,457.8 322,457.8" fill="url(#db)"/>
<polyline points="322.0,441.0 333.0,371.0 338.0,385.0 343.0,398.0 348.0,408.0 354.0,418.0 360.0,429.0 366.0,437.0 369.0,439.5 377.0,441.0 387.0,444.0 399.0,446.6 409.0,446.0 419.0,450.4 432.0,448.0 443.0,452.0 455.0,454.0 465.0,450.6 476.0,452.5 487.0,454.6 498.0,454.6 509.0,453.4 520.0,456.0 531.0,455.0 541.0,456.0" fill="none" stroke="#ff4a4a" stroke-width="1" stroke-linejoin="round"/>
<polyline points="322.0,422.6 328.0,421.8 334.0,421.4 340.0,422.0 345.0,423.4 350.0,426.0 355.0,430.0 361.0,436.5 368.0,442.0 372.0,440.0 377.0,438.4 382.0,438.8 387.0,439.6 393.0,444.0 400.0,448.0 409.0,452.0 419.0,451.0 432.0,450.6 443.0,446.0 449.0,447.5 455.0,450.0 465.0,450.8 476.0,452.8 487.0,454.6 498.0,452.0 504.0,449.6 509.0,448.0 515.0,450.0 520.0,452.0 528.0,456.0 541.0,457.0" fill="none" stroke="#1818f0" stroke-width="1" stroke-linejoin="round"/>
<path d="M322.2,369V457.8H541.6" stroke="#000" stroke-width="1.1" fill="none"/>
<path d="M320,457.8H322.2M320,438.7H322.2M320,419.6H322.2M320,400.5H322.2M320,381.4H322.2M322.2,457.8V460.0M431.6,457.8V460.0M541.3,457.8V460.0" stroke="#000" stroke-width="0.9"/>
<text class="b s" x="319.6" y="459.9" font-size="5.7" text-anchor="end">0</text>
<text class="b s" x="319.6" y="440.8" font-size="5.7" text-anchor="end">5</text>
<text class="b s" x="319.6" y="421.7" font-size="5.7" text-anchor="end">10</text>
<text class="b s" x="319.6" y="402.6" font-size="5.7" text-anchor="end">15</text>
<text class="b s" x="319.6" y="383.5" font-size="5.7" text-anchor="end">20</text>
<text class="b s" x="322" y="468.2" font-size="6" text-anchor="middle">0.0</text>
<text class="b s" x="432" y="468.2" font-size="6" text-anchor="middle">0.5</text>
<text class="b s" x="541.8" y="468.2" font-size="6" text-anchor="middle">1.0</text>
<text class="b s" x="406" y="480.4" font-size="7" textLength="51" lengthAdjust="spacingAndGlyphs" fill="#222">Bin Center (μm<tspan dy="-2.4" font-size="4.6">2</tspan><tspan dy="2.4">)</tspan></text>
<text class="b s" transform="translate(311.3,464.2) rotate(-90)" font-size="6.3" textLength="101.6" lengthAdjust="spacingAndGlyphs">Relative frequency (fractions)</text>
<path d="M506,376.6H513.6" stroke="#3030ff" stroke-width="0.8"/><path d="M506,388.4H513.6" stroke="#ff4a4a" stroke-width="0.8"/>
<text x="519" y="379" font-size="6.6" fill="#333" textLength="18" lengthAdjust="spacingAndGlyphs">E3 OA</text>
<text x="519" y="391" font-size="6.6" fill="#333" textLength="18" lengthAdjust="spacingAndGlyphs">E4 OA</text>
</svg></body></html>
